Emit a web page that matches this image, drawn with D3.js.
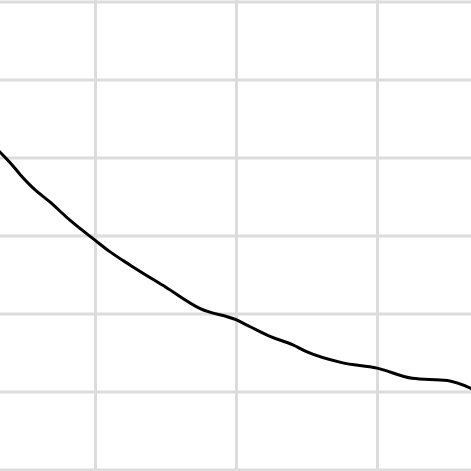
<!DOCTYPE html>
<html>
<head>
<meta charset="utf-8">
<script src="https://cdn.jsdelivr.net/npm/d3@7"></script>
<style>
  html, body { margin: 0; padding: 0; background: #fff; }
  svg { display: block; }
  .grid line { stroke: #dcdcdc; stroke-width: 3; }
  .grid path { display: none; }
  .grid text { display: none; }
</style>
</head>
<body>
<svg id="chart" width="471" height="471"></svg>
<script>
// values (x in grid units, y in grid units)
const xValues = [0.31, 0.4, 0.47, 0.56, 0.68, 0.82, 1.0, 1.1, 1.25, 1.5, 1.75, 2.0, 2.1, 2.25, 2.4, 2.5, 2.75, 3.0, 3.25, 3.5, 3.68];
const yValues = [4.10, 3.93, 3.78, 3.61, 3.43, 3.20, 2.94, 2.80, 2.62, 2.34, 2.06, 1.92, 1.83, 1.70, 1.60, 1.51, 1.37, 1.30, 1.17, 1.14, 1.03];
const xTicks = [0, 1, 2, 3, 4];
const yTicks = [0, 1, 2, 3, 4, 5, 6];

const width = 471;
const height = 471;

const svg = d3.select("#chart");

const x = d3.scaleLinear()
    .domain([1, 3])
    .range([95, 377]);

const y = d3.scaleLinear()
    .domain([0, 6])
    .range([469.5, 1.5]);

// vertical grid lines
svg.append("g")
    .attr("class", "grid")
    .attr("transform", `translate(0,${height})`)
    .call(d3.axisBottom(x).tickValues(xTicks).tickSize(-height).tickFormat(""));

// horizontal grid lines
svg.append("g")
    .attr("class", "grid")
    .call(d3.axisLeft(y).tickValues(yTicks).tickSize(-width).tickFormat(""));

const data = xValues.map((d, i) => ({ x: d, y: yValues[i] }));

const line = d3.line()
    .x(d => x(d.x))
    .y(d => y(d.y))
    .curve(d3.curveMonotoneX);

svg.append("path")
    .datum(data)
    .attr("fill", "none")
    .attr("stroke", "#000")
    .attr("stroke-width", 3)
    .attr("stroke-linejoin", "round")
    .attr("d", line);
</script>
</body>
</html>
